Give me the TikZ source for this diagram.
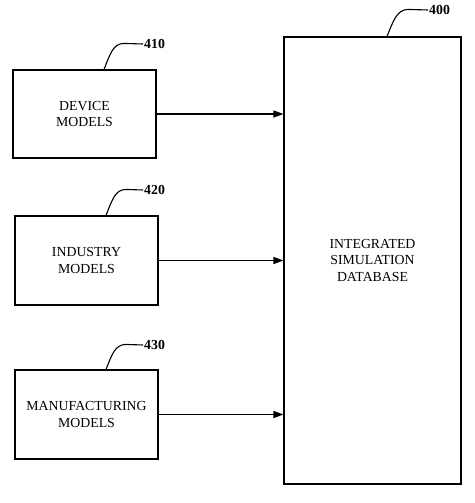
\documentclass[tikz,border=0pt]{standalone}
\usepackage{fontspec}
\setmainfont{Liberation Serif}
\usetikzlibrary{arrows.meta,calc}
\begin{document}
\begin{tikzpicture}[x=1pt,y=1pt,
    modelbox/.style={draw, line width=1.1pt, minimum width=143pt, minimum height=88pt,
      align=center, inner sep=0pt, font=\fontsize{13.8}{16.7}\selectfont},
    reflabel/.style={anchor=west, inner sep=1pt, font=\fontsize{13.8}{16}\selectfont\bfseries},
    feed/.style={line width=1.1pt, -{Triangle[length=10pt,width=7pt]}},
    leader/.style={line width=1.1pt}]
    \useasboundingbox (0,0) rectangle (474,503);
    \node[modelbox, minimum width=177pt, minimum height=447pt] (db) at (372.5,242.5) {INTEGRATED\\SIMULATION\\DATABASE};% database
    \node[modelbox] (dev) at (84.5,389) {DEVICE\\MODELS};% first model
    \node[modelbox, minimum height=89pt] (ind) at (86.5,242.5) {INDUSTRY\\MODELS};% second model
    \node[modelbox, minimum height=89pt] (man) at (86.5,88.5) {MANUFACTURING\\MODELS};% third model
    \node[reflabel] (l400) at (428,493) {400};
    \node[reflabel] (l410) at (143,459) {410};
    \node[reflabel] (l420) at (143,313) {420};
    \node[reflabel] (l430) at (143,158) {430};
    \draw[leader] ([xshift=14.5pt]db.north) .. controls +(6,15) and +(-11,0) .. ++(21,27) -- (l400.west);% first leader
    \draw[leader] ([xshift=19.5pt]dev.north) .. controls +(6,15) and +(-11,0) .. ++(20,26) -- (l410.west);% second leader
    \draw[leader] ([xshift=19.5pt]ind.north) .. controls +(6,15) and +(-11,0) .. ++(20,26) -- (l420.west);% third leader
    \draw[leader] ([xshift=19.5pt]man.north) .. controls +(6,15) and +(-11,0) .. ++(20,25) -- (l430.west);% fourth leader
    \draw[feed] (dev.east) -- (dev.east -| db.west);
    \draw[feed] (ind.east) -- (ind.east -| db.west);
    \draw[feed] (man.east) -- (man.east -| db.west);
\end{tikzpicture}
\end{document}
